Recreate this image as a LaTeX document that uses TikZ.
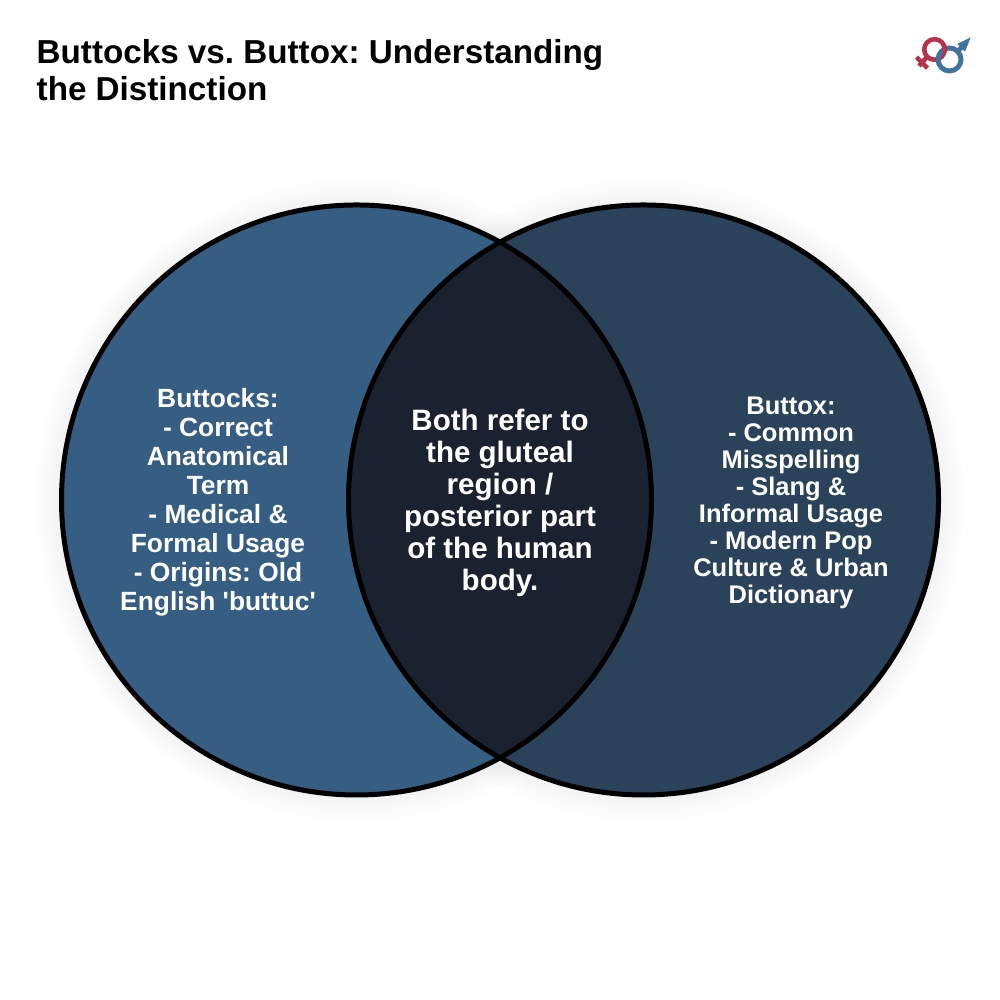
\documentclass[tikz,border=0pt]{standalone}
\usepackage{fontspec}
\setmainfont{Liberation Sans}
\definecolor{leftblue}{HTML}{365D82}
\definecolor{rightblue}{HTML}{2A435B}
\definecolor{bothblue}{HTML}{1A222F}
\definecolor{femalered}{HTML}{B5334F}
\definecolor{maleblue}{HTML}{41739F}
\frenchspacing
\tikzset{
	venntext/.style 2 args={white,align=center,font=\bfseries\fontsize{#1}{#2}\selectfont},
	ring/.style={line width=1.42pt,black},
	female/.style={femalered,line width=1.3pt},
	male/.style={maleblue,line width=1.4pt},
}
\begin{document}
\begin{tikzpicture}
		\useasboundingbox (0,0) rectangle (10,10);
		\fill[white] (0,0) rectangle (10,10);
		% soft shadow
		\foreach \r in {3.00,3.04,3.08,3.12,3.16,3.20}{
			\fill[black,opacity=.006] (3.565,5) circle (\r);
			\fill[black,opacity=.006] (6.435,5) circle (\r);
		}
		\fill[leftblue] (3.565,5) circle (2.95);
		\fill[rightblue] (6.435,5) circle (2.95);
		\begin{scope}
			\clip (3.565,5) circle (2.95);
			\fill[bothblue] (6.435,5) circle (2.95);
		\end{scope}
		\draw[ring] (3.565,5) circle (2.95);
		\draw[ring] (6.435,5) circle (2.95);
		\node[anchor=north west,align=left,inner sep=0pt,font=\bfseries\fontsize{9.45}{10.5}\selectfont] (title) at (.36,9.61) {Buttocks vs. Buttox: Understanding\\the Distinction};
		\node[venntext={7.5}{8.25}] (buttocks) at (2.18,4.98) {Buttocks:\\- Correct\\Anatomical\\Term\\- Medical \&\\Formal Usage\\- Origins: Old\\English \textquotesingle buttuc\textquotesingle};
		\node[venntext={8.4}{9.1}] (both) at (5,4.97) {Both refer to\\the gluteal\\region /\\posterior part\\of the human\\body.};
		\node[venntext={7.25}{7.68}] (buttox) at (7.91,4.97) {Buttox:\\- Common\\Misspelling\\- Slang \&\\Informal Usage\\- Modern Pop\\Culture \& Urban\\Dictionary};
		% icon
		\draw[female] (9.345,9.505) circle (.103);
		\draw[female] (9.27,9.43) -- (9.19,9.34);
		\draw[female] (9.165,9.428) -- (9.275,9.318);
		\draw[male] (9.495,9.405) circle (.115);
		\draw[male] (9.575,9.485) -- (9.65,9.56);
		\fill[maleblue] (9.707,9.627) -- (9.573,9.56) -- (9.65,9.483) -- cycle;
		\draw[female] (9.345,9.505) ++(30:.103) arc (30:-15:.103);
\end{tikzpicture}
\end{document}
